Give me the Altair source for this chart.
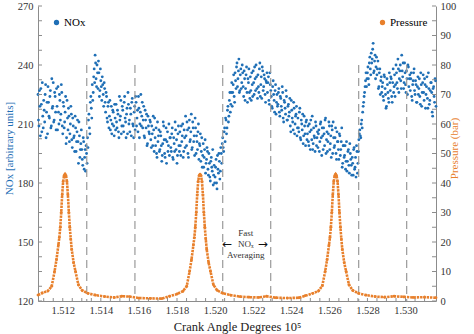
import altair as alt
import pandas as pd

BLUE = "#1f6fb6"
ORANGE = "#e8802c"
GRAY = "#8c8c8c"
FONT = "Liberation Serif"

# ---- NOx samples (arbitrary units), two interleaved uniform crank-angle samplings ----
nox_x_start = 1.5107
nox_x_step = 0.00005
nox_values = [
    225, 209, 219, 228, 206, 214, 222, 211, 230, 216,
    205, 221, 213, 227, 209, 218, 231, 212, 224, 207,
    219, 229, 210, 222, 215, 226,
    205, 219, 211, 224, 203, 213, 218, 201, 210, 215,
    198, 209, 204, 214, 196, 206, 201, 211, 193, 200,
    197, 189, 201, 193, 186, 195,
    203, 212, 208, 221, 218, 230, 226,
    238, 245, 233, 240, 228,
    236, 227, 232, 222, 230,
    219, 228, 216, 224, 211, 221,
    214, 207, 219, 210, 216, 204, 213,
    220, 208, 215, 203, 212, 222, 209,
    217, 206, 224, 211, 215, 205, 220,
    212, 218, 204, 223, 209, 216, 207,
    221, 213, 206, 218, 210, 225, 214,
    208, 219, 203, 212, 215, 200, 209, 205,
    211, 198, 205, 214, 196, 203, 208, 193, 201, 207,
    197, 204, 191, 200, 209, 195, 202, 190, 206, 199, 194,
    203, 196, 208, 192, 200, 211, 197, 190, 205, 199,
    206, 194, 201, 210, 196, 203, 214, 199, 207, 193, 212, 202, 215,
    198, 208, 204, 213, 195, 201, 206, 192,
    199, 191, 203, 194, 188, 197, 185, 192,
    196, 184, 190, 181, 193, 186, 179, 189,
    183, 192, 177, 187, 195, 182, 198, 190,
    203, 196, 208, 213, 205, 217, 211, 222, 216, 226,
    219, 230, 224, 236, 228, 241, 233, 243, 227, 238, 231,
    236, 224, 233, 228, 239, 221, 231, 226,
    234, 222, 230, 237, 225, 233, 240, 228,
    235, 226, 241, 230, 223, 237, 229, 233, 221, 231,
    226, 234, 220, 230, 224, 218, 232, 222, 227, 215, 225,
    220, 228, 214, 223, 217, 226, 211, 221, 215, 224,
    212, 220, 216, 209, 222, 213, 207, 218, 210, 215, 204,
    213, 206, 218, 202, 210, 215, 204, 209, 199, 212,
    205, 201, 210, 197, 207, 214, 200, 204, 196, 209, 203,
    198, 207, 201, 211, 194, 204, 208, 199, 213, 202,
    196, 205, 209, 200, 193, 207, 211, 198, 203, 195, 206,
    201, 192, 204, 197, 208, 190, 199,
    194, 187, 201, 191, 197, 185, 195, 189,
    193, 184, 198, 188, 183, 196, 190, 202,
    207, 203, 212, 216, 221, 226, 232,
    229, 236, 233, 241, 238, 246,
    243, 251, 237, 245, 239,
    235, 242, 229, 238, 232, 226,
    231, 222, 234, 225, 219, 230, 223, 236,
    227, 233, 221, 238, 229, 224, 240,
    231, 243, 226, 237, 232, 245,
    234, 228, 241, 230, 237, 225, 239, 233,
    227, 236, 222, 232, 238, 225, 230,
    221, 234, 228, 224, 236, 219, 231,
    226, 233, 218, 229, 223, 236, 220, 227, 231, 216, 228, 224, 233, 219,
]
nox_values_b = [
    212, 227, 204, 220, 231, 208, 217, 225, 203, 221,
    229, 214, 224, 208, 233, 219, 211, 226, 216, 228,
    207, 216, 225, 212, 230, 209,
    221, 208, 216, 200, 222, 207, 214, 205, 219, 202,
    213, 203, 196, 208, 201, 212, 190, 204, 197, 207,
    192, 203, 187, 197, 199, 190,
    198, 215, 205, 224, 213, 222, 234,
    231, 241, 229, 236, 242,
    224, 238, 229, 234, 225,
    231, 221, 226, 213, 219, 208,
    222, 212, 205, 217, 209, 220, 207,
    211, 217, 206, 224, 214, 205, 219,
    209, 221, 213, 203, 218, 226, 210,
    206, 215, 221, 210, 203, 219, 224,
    209, 217, 224, 203, 216, 209, 221,
    212, 204, 217, 208, 199, 214, 206, 212,
    202, 209, 199, 207, 213, 199, 195, 211, 204, 196,
    206, 199, 194, 211, 202, 193, 208, 201, 196, 210, 203,
    198, 205, 193, 203, 196, 207, 202, 194, 209, 196,
    199, 209, 204, 193, 207, 198, 204, 211, 195, 208, 201, 206, 197,
    211, 201, 194, 208, 204, 197, 210, 200,
    205, 196, 188, 200, 193, 202, 190, 198,
    187, 195, 183, 191, 188, 197, 184, 180,
    188, 180, 194, 185, 191, 186, 195, 200,
    198, 206, 201, 212, 208, 219, 214, 226, 220, 231,
    226, 235, 221, 232, 239, 229, 237, 226, 235, 228, 240,
    229, 237, 222, 235, 226, 233, 238, 223,
    227, 236, 224, 231, 239, 227, 234, 223,
    229, 238, 224, 234, 239, 227, 235, 225, 232, 236,
    231, 222, 236, 227, 219, 229, 225, 216, 230, 221, 219,
    226, 216, 224, 219, 229, 213, 222, 218, 227, 212,
    219, 214, 223, 206, 217, 211, 221, 205, 214, 219, 208,
    208, 216, 203, 212, 207, 200, 214, 205, 211, 202,
    209, 199, 206, 212, 202, 197, 208, 203, 211, 199, 206,
    205, 196, 210, 203, 208, 197, 205, 212, 195, 206,
    201, 211, 197, 204, 209, 195, 203, 199, 208, 192, 201,
    197, 205, 194, 201, 188, 199, 193,
    199, 191, 186, 196, 189, 200, 192, 184,
    190, 197, 187, 193, 199, 185, 196, 205,
    204, 210, 208, 219, 224, 229, 236,
    233, 239, 230, 244, 235, 241,
    248, 236, 242, 233, 244,
    238, 228, 236, 225, 234, 229,
    224, 235, 228, 218, 233, 226, 221, 231,
    234, 224, 231, 226, 235, 230, 236,
    228, 238, 233, 240, 228, 237,
    241, 231, 236, 226, 233, 240, 229, 235,
    233, 224, 230, 236, 227, 232, 221,
    229, 225, 233, 220, 230, 226, 235,
    222, 230, 225, 234, 218, 228, 222, 231, 226, 214, 229, 221, 232,
]

# ---- Pressure trace (bar) ----
pressure_x = [
    1.5107, 1.51092, 1.51122, 1.51142, 1.51157, 1.51167, 1.51177, 1.51182, 1.51187,
    1.51192, 1.51197, 1.51202, 1.51207, 1.51212, 1.51217, 1.51222, 1.51227, 1.51232,
    1.51237, 1.51242, 1.51247, 1.51257, 1.51267, 1.51282, 1.51302, 1.51332, 1.51372,
    1.5142, 1.5147, 1.5151, 1.5155, 1.5160, 1.5166, 1.5172,
    1.51761, 1.51801, 1.51831, 1.51851, 1.51866, 1.51876, 1.51886, 1.51891, 1.51896,
    1.51901, 1.51906, 1.51911, 1.51916, 1.51921, 1.51926, 1.51931, 1.51936, 1.51941,
    1.51946, 1.51951, 1.51956, 1.51966, 1.51976, 1.51991, 1.52011, 1.52041, 1.52081,
    1.5213, 1.5218, 1.5223, 1.5227, 1.5232, 1.5238, 1.5244,
    1.52473, 1.52513, 1.52543, 1.52563, 1.52578, 1.52588, 1.52598, 1.52603, 1.52608,
    1.52613, 1.52618, 1.52623, 1.52628, 1.52633, 1.52638, 1.52643, 1.52648, 1.52653,
    1.52658, 1.52663, 1.52668, 1.52678, 1.52688, 1.52703, 1.52723, 1.52753, 1.52793,
    1.5284, 1.5289, 1.5294, 1.5299, 1.5304, 1.5310, 1.5316,
]
pressure_bar = [
    2.0, 2.7, 3.4, 5.0, 10, 14, 19, 21.5, 25,
    30, 36, 40.5, 42.5, 43, 42.5, 40.5, 36, 30,
    25, 21, 17.5, 13, 10, 5.5, 3.6, 2.6, 2.0,
    1.5, 1.2, 1.6, 1.5, 1.0, 0.9, 0.8,
    1.6, 2.4, 3.3, 5.0, 10, 14, 19, 21.5, 25,
    30, 36, 40.5, 42.5, 43, 42.5, 40.5, 36, 30,
    25, 21, 17.5, 13, 10, 5.5, 3.6, 2.6, 2.0,
    1.5, 1.3, 1.2, 1.6, 1.1, 1.0, 1.1,
    1.8, 2.6, 3.4, 5.2, 10, 14, 19, 21.5, 25,
    30, 36, 40.5, 42.5, 43, 42.5, 40.5, 36, 30,
    25, 21, 17.5, 13, 10, 5.5, 3.6, 2.6, 2.0,
    1.5, 1.3, 1.6, 1.4, 1.2, 1.3, 1.1,
]

# ---- dashed markers & annotation ----
dashed_x = [1.51326, 1.51579, 1.52040, 1.52292, 1.52754, 1.53006]
dashed_top = 240
dashed_bottom = 120
ann_lines = ["Fast", "NOₓ", "Averaging"]
ann_x = 1.52161
ann_y = [154.5, 149.0, 143.2]
arrow_texts = ["←", "→"]
arrow_x = [1.52064, 1.52250]
arrow_y = [149.0, 149.0]

# ---- axes ----
x_ticks = [1.512, 1.514, 1.516, 1.518, 1.520, 1.522, 1.524, 1.526, 1.528, 1.530]
x_minor = [1.511, 1.5115, 1.512, 1.5125, 1.513, 1.5135, 1.514, 1.5145, 1.515, 1.5155,
           1.516, 1.5165, 1.517, 1.5175, 1.518, 1.5185, 1.519, 1.5195, 1.520, 1.5205,
           1.521, 1.5215, 1.522, 1.5225, 1.523, 1.5235, 1.524, 1.5245, 1.525, 1.5255,
           1.526, 1.5265, 1.527, 1.5275, 1.528, 1.5285, 1.529, 1.5295, 1.530, 1.5305,
           1.531]
nox_ticks = [120, 150, 180, 210, 240, 270]
nox_minor = [120, 127.5, 135, 142.5, 150, 157.5, 165, 172.5, 180, 187.5, 195, 202.5,
             210, 217.5, 225, 232.5, 240, 247.5, 255, 262.5, 270]
p_ticks = [0, 10, 20, 30, 40, 50, 60, 70, 80, 90, 100]
p_minor = [0, 5, 10, 15, 20, 25, 30, 35, 40, 45, 50, 55, 60, 65, 70, 75, 80, 85, 90, 95, 100]

W, H = 398, 295

nox_df = pd.DataFrame({
    "x": [nox_x_start + nox_x_step * i for i in range(len(nox_values))]
    + [nox_x_start + nox_x_step * (i + 0.5) for i in range(len(nox_values_b))],
    "nox": nox_values + nox_values_b,
    "series": "NOx",
})
p_df = pd.DataFrame({"x": pressure_x, "p": pressure_bar, "series": "Pressure"})
dash_df = pd.DataFrame({"x": dashed_x, "top": dashed_top, "bottom": dashed_bottom})
ann_df = pd.DataFrame({"x": ann_x, "y": ann_y, "t": ann_lines})
arr_df = pd.DataFrame({"x": arrow_x, "y": arrow_y, "t": arrow_texts})

xscale = alt.Scale(domain=[1.5107, 1.5316], nice=False, zero=False)
nox_scale = alt.Scale(domain=[120, 270], nice=False, zero=False)
p_scale = alt.Scale(domain=[0, 100], nice=False, zero=False)

x_axis = alt.Axis(values=x_ticks, format=".3f", title="Crank Angle Degrees 10⁵",
                  ticks=False, labelPadding=4, titlePadding=5,
                  titleFontSize=12.5, labelFontSize=10.5, grid=False,
                  labelFont=FONT, titleFont=FONT, titleFontWeight="normal",
                  labelColor="#333333", titleColor="#222222",
                  domainColor=GRAY, domainWidth=1)
nox_axis = alt.Axis(values=nox_ticks, title="NOx [arbitrary units]", orient="left",
                    ticks=False, labelPadding=5, titlePadding=3,
                    titleColor=BLUE, titleFontSize=11, labelFontSize=10.5, grid=False,
                    labelFont=FONT, titleFont=FONT, titleFontWeight="normal",
                    labelColor="#333333", domainColor=GRAY, domainWidth=1,
                    titleY=142)
p_axis = alt.Axis(values=p_ticks, title="Pressure (bar)", orient="right",
                  ticks=False, labelPadding=4, titlePadding=4,
                  titleColor=ORANGE, titleFontSize=11, labelFontSize=10.5, grid=False,
                  labelFont=FONT, titleFont=FONT, titleFontWeight="normal",
                  labelColor="#333333", domainColor=GRAY, domainWidth=1,
                  titleAngle=270, titleY=142)

X = alt.X("x:Q", scale=xscale, axis=x_axis)
YN = lambda f: alt.Y(f, scale=nox_scale, axis=nox_axis)
YP = lambda f: alt.Y(f, scale=p_scale, axis=p_axis)

nox_pts = alt.Chart(nox_df).mark_circle(size=8, opacity=1).encode(
    x=X,
    y=YN("nox:Q"),
    color=alt.Color("series:N", scale=alt.Scale(domain=["NOx"], range=[BLUE]),
                    legend=alt.Legend(orient="none", legendX=13, legendY=11, title=None,
                                      symbolType="circle", symbolSize=28, labelFontSize=11,
                                      labelFont=FONT, padding=0, labelOffset=2)),
)

dashes = alt.Chart(dash_df).mark_rule(color="#9a9a9a", strokeWidth=1.2, strokeDash=[8, 5]).encode(
    x=X, y=YN("top:Q"), y2="bottom:Q",
)

ann = alt.Chart(ann_df).mark_text(font=FONT, fontSize=9, color="#333333").encode(
    x=X, y=YN("y:Q"), text="t:N")
arrows = alt.Chart(arr_df).mark_text(font="DejaVu Sans", fontSize=12, color="#111111").encode(
    x=X, y=YN("y:Q"), text="t:N")

left_ticks = alt.Chart(pd.DataFrame({"v": nox_minor})).mark_rule(color=GRAY, strokeWidth=1).encode(
    y=YN("v:Q"), x=alt.value(0), x2=alt.value(4))
bottom_ticks = alt.Chart(pd.DataFrame({"v": x_minor})).mark_rule(color=GRAY, strokeWidth=1).encode(
    x=alt.X("v:Q", scale=xscale, axis=x_axis), y=alt.value(H), y2=alt.value(H - 3))

nox_group = alt.layer(nox_pts, left_ticks, bottom_ticks, dashes, ann, arrows)

p_line = alt.Chart(p_df).mark_line(color=ORANGE, strokeWidth=2.6, strokeDash=[2.4, 0.9]).encode(
    x=X, y=YP("p:Q"))
p_pts = alt.Chart(p_df).mark_circle(size=8, opacity=1).encode(
    x=X,
    y=YP("p:Q"),
    color=alt.Color("series:N", scale=alt.Scale(domain=["Pressure"], range=[ORANGE]),
                    legend=alt.Legend(orient="none", legendX=339, legendY=11, title=None,
                                      symbolType="circle", symbolSize=28, labelFontSize=11,
                                      labelFont=FONT, padding=0, labelOffset=2)),
)
right_ticks = alt.Chart(pd.DataFrame({"v": p_minor})).mark_rule(color=GRAY, strokeWidth=1).encode(
    y=YP("v:Q"), x=alt.value(W), x2=alt.value(W - 4))

p_group = alt.layer(p_pts, right_ticks, p_line)

chart = (
    alt.layer(nox_group, p_group)
    .resolve_scale(y="independent", color="independent")
    .properties(width=W, height=H,
                padding={"left": 38, "top": 6, "right": 38, "bottom": 33},
                autosize=alt.AutoSizeParams(type="none"))
    .configure_view(stroke=None)
    .configure_axis(labelFont=FONT, titleFont=FONT, titleFontWeight="normal")
    .configure_legend(labelFont=FONT)
)

chart.save("out.html", embed_options={"renderer": "svg", "actions": False})
